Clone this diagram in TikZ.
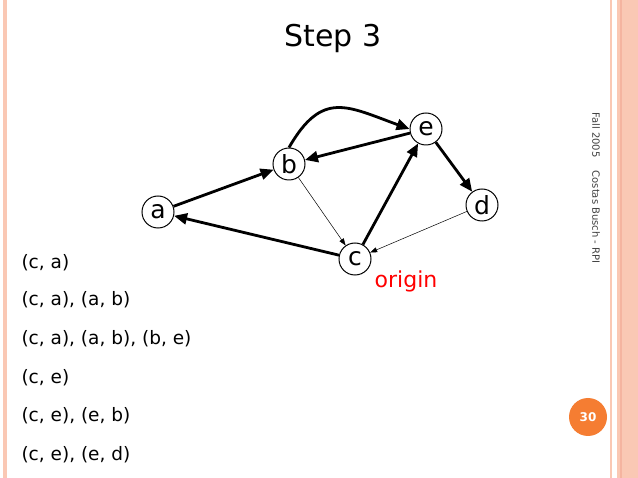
\documentclass[tikz,border=0pt]{standalone}
\usepackage{fontspec}
\setmainfont{DejaVu Sans}
\usetikzlibrary{arrows.meta}
\definecolor{peach}{RGB}{250,200,180}
\definecolor{peachd}{RGB}{245,180,160}
\definecolor{badge}{RGB}{245,125,50}
\begin{document}
\begin{tikzpicture}[x=1pt,y=-1pt,
  vert/.style={circle,draw,line width=1pt,minimum size=32pt,inner sep=0pt,font=\fontsize{25}{25}\selectfont},
  heavy/.style={line width=2.8pt,-{Triangle[length=13pt,width=11pt]}},
  light/.style={line width=0.5pt,-{Triangle[length=7pt,width=5pt]}},
  lst/.style={anchor=west,font=\fontsize{18.5}{20}\selectfont}]
\useasboundingbox (0,0) rectangle (638,478);
\fill[white] (0,0) rectangle (638,478);
\fill[peach] (3,0) rectangle (7,478);
\fill[peach] (610,0) rectangle (612,478);
\fill[peach] (617,0) rectangle (638,478);
\fill[peachd] (620,0) rectangle (622,478);
\node[font=\fontsize{30}{32}\selectfont] (t) at (333,38) {Step 3};
\node[vert] (a) at (158,212) {a};
\node[vert] (b) at (289,164) {b};
\node[vert] (e) at (426,129) {e};
\node[vert] (d) at (482,205) {d};
\node[vert] (c) at (355,259) {c};
\node[text=red,font=\fontsize{22}{24}\selectfont] (o) at (406,281) {origin};
\draw[heavy] (a) -- (b);
\draw[heavy] (c) -- (a);
\draw[heavy] (c) -- (e);
\draw[heavy] (e) -- (b);
\draw[heavy] (e) -- (d);
\draw[heavy] (b.north) to[out=60,in=160,looseness=1.4] (e.west);
\draw[light] (b) -- (c);
\draw[light] (d) -- (c);
\node[lst] (l1) at (18,263) {(c, a)};
\node[lst] (l2) at (18,300) {(c, a), (a, b)};
\node[lst] (l3) at (18,339) {(c, a), (a, b), (b, e)};
\node[lst] (l4) at (18,378) {(c, e)};
\node[lst] (l5) at (18,416) {(c, e), (e, b)};
\node[lst] (l6) at (18,455) {(c, e), (e, d)};
\node[rotate=-90,font=\fontsize{10}{11}\selectfont,text=black!75] (f) at (596,188) {Fall 2005 \quad Costas Busch - RPI};
\node[circle,fill=badge,minimum size=38pt,text=white,font=\bfseries\fontsize{12}{13}\selectfont] (n) at (588,417) {30};
\end{tikzpicture}
\end{document}
